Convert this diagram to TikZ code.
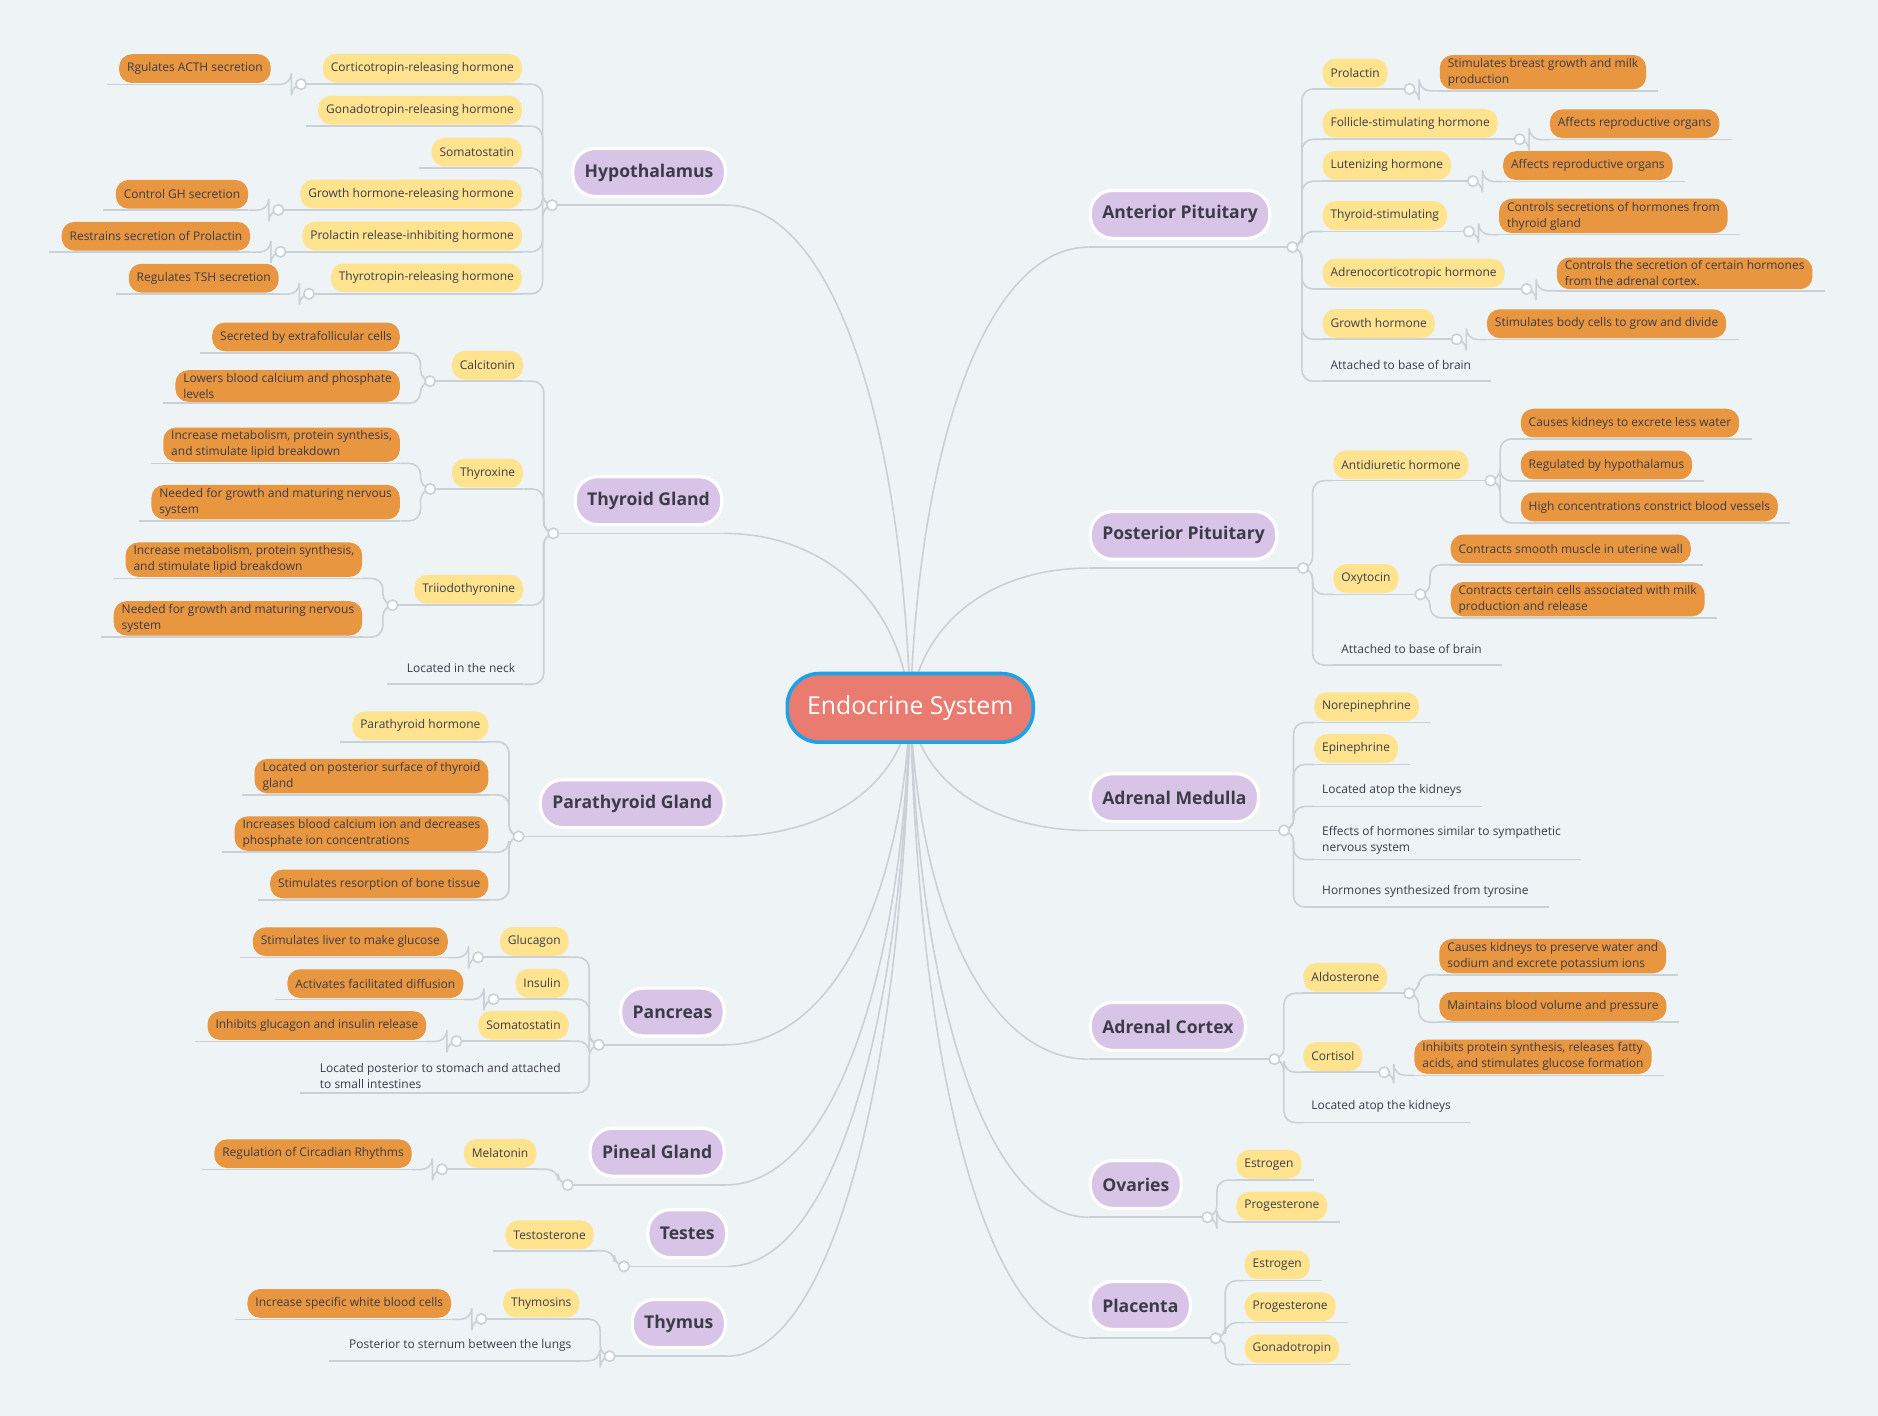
\documentclass[tikz,border=0pt]{standalone}
\usepackage{fontspec}
\setmainfont{Open Sans}
\usetikzlibrary{calc}
\definecolor{bgc}{HTML}{EEF3F6}
\definecolor{lnc}{HTML}{C9D0D6}
\definecolor{ylw}{HTML}{FFE38F}
\definecolor{org}{HTML}{E8963F}
\definecolor{lav}{HTML}{D7C4E6}
\definecolor{ctr}{HTML}{E97B71}
\definecolor{cbd}{HTML}{1AA3E8}
\definecolor{txt}{HTML}{3C3C48}
\pgfdeclarelayer{back}\pgfdeclarelayer{bg}\pgfsetlayers{back,bg,main}
\tikzset{
 ln/.style={draw=lnc, line width=1pt, rounded corners=7pt},
 pill/.style={rounded corners=8pt, inner xsep=5pt, inner ysep=2pt, minimum height=18pt, font=\fontsize{7.5}{10}\selectfont, text=txt, align=left},
 yl/.style={pill, fill=ylw},
 orn/.style={pill, fill=org},
 tx/.style={inner xsep=5pt, inner ysep=2pt, minimum height=18pt, font=\fontsize{7.5}{10}\selectfont, text=txt, align=left},
 topic/.style={fill=lav, draw=white, line width=2pt, rounded corners=14pt, minimum height=30pt, inner xsep=7.5pt, font=\fontsize{11}{13}\selectfont\bfseries, text=txt},
 jdot/.style={circle, draw=lnc, fill=white, line width=1pt, inner sep=0pt, minimum size=6.5pt},
}
\newcommand\mkul[2]{\path (#1.south west) ++(0,#2) coordinate (#1L); \path (#1.south east) ++(0,#2) coordinate (#1R);}
\newcommand\chR[2]{\mkul{#2}{1}\begin{pgfonlayer}{bg}\draw[ln] (#1) -- ++(8,0) |- (#2L);\end{pgfonlayer}}
\newcommand\chL[2]{\mkul{#2}{1}\begin{pgfonlayer}{bg}\draw[ln] (#1) -- ++(-8,0) |- (#2R);\end{pgfonlayer}}
\newcommand\finR[1]{\begin{pgfonlayer}{bg}\draw[ln] (#1L) -- ($(#1R)+(10,0)$);\end{pgfonlayer}}
\newcommand\finL[1]{\begin{pgfonlayer}{bg}\draw[ln] (#1R) -- ($(#1L)+(-10,0)$);\end{pgfonlayer}}
\newcommand\circR[1]{\path (#1R) ++(18,0) coordinate (#1C); \begin{pgfonlayer}{bg}\draw[ln] (#1L) -- (#1C);\end{pgfonlayer}\node[jdot] at (#1C) {};}
\newcommand\circL[1]{\path (#1L) ++(-18,0) coordinate (#1C); \begin{pgfonlayer}{bg}\draw[ln] (#1R) -- (#1C);\end{pgfonlayer}\node[jdot] at (#1C) {};}
\newcommand\trunk[1]{\begin{pgfonlayer}{bg}\draw[ln] let \p1=(S), \p2=(#1) in (\p1) .. controls ({\x1+0.05*(\x2-\x1)},{\y1+0.6*(\y2-\y1)}) and ({\x1+0.45*(\x2-\x1)},{\y2}) .. (\p2);\end{pgfonlayer}}
\newcommand\topR[4]{\node[topic,anchor=west] (#1) at (#2) {#3}; \mkul{#1}{6}\coordinate (#1J) at (#1L -| #4,0); \begin{pgfonlayer}{bg}\draw[ln] (#1L) -- (#1J);\end{pgfonlayer}\trunk{#1L}}
\newcommand\topL[4]{\node[topic,anchor=east] (#1) at (#2) {#3}; \mkul{#1}{6}\coordinate (#1J) at (#1R -| #4,0); \begin{pgfonlayer}{bg}\draw[ln] (#1R) -- (#1J);\end{pgfonlayer}\trunk{#1R}}
\begin{document}
\begin{tikzpicture}[x=0.75pt,y=-0.75pt]
\begin{pgfonlayer}{back}\fill[bgc] (0,0) rectangle (1568,1182);\end{pgfonlayer}
\useasboundingbox (0,0) rectangle (1568,1182);
\coordinate (S) at (760,591);
% ---------- Anterior Pituitary
\topR{T1}{909,179}{Anterior Pituitary}{1079}
\node[yl,anchor=west] (a1) at (1104,61) {Prolactin}; \chR{T1J}{a1}\circR{a1}
\node[orn,anchor=west] (a1g) at ($(a1C)+(25,-14)$) {Stimulates breast growth and milk\\production}; \chR{a1C}{a1g}\finR{a1g}
\node[yl,anchor=west] (a2) at (1104,103) {Follicle-stimulating hormone}; \chR{T1J}{a2}\circR{a2}
\node[orn,anchor=west] (a2g) at ($(a2C)+(25,-13)$) {Affects reproductive organs}; \chR{a2C}{a2g}\finR{a2g}
\node[yl,anchor=west] (a3) at (1104,138) {Lutenizing hormone}; \chR{T1J}{a3}\circR{a3}
\node[orn,anchor=west] (a3g) at ($(a3C)+(25,-13)$) {Affects reproductive organs}; \chR{a3C}{a3g}\finR{a3g}
\node[yl,anchor=west] (a4) at (1104,180) {Thyroid-stimulating}; \chR{T1J}{a4}\circR{a4}
\node[orn,anchor=west] (a4g) at ($(a4C)+(25,-13)$) {Controls secretions of hormones from\\thyroid gland}; \chR{a4C}{a4g}\finR{a4g}
\node[yl,anchor=west] (a5) at (1104,228) {Adrenocorticotropic hormone}; \chR{T1J}{a5}\circR{a5}
\node[orn,anchor=west] (a5g) at ($(a5C)+(25,-13)$) {Controls the secretion of certain hormones\\from the adrenal cortex.}; \chR{a5C}{a5g}\finR{a5g}
\node[yl,anchor=west] (a6) at (1104,270) {Growth hormone}; \chR{T1J}{a6}\circR{a6}
\node[orn,anchor=west] (a6g) at ($(a6C)+(25,-13)$) {Stimulates body cells to grow and divide}; \chR{a6C}{a6g}\finR{a6g}
\node[tx,anchor=west] (a7) at (1104,305) {Attached to base of brain}; \chR{T1J}{a7}\finR{a7}
\node[jdot] at (T1J) {};
% ---------- Posterior Pituitary
\topR{T2}{909,447}{Posterior Pituitary}{1088}
\node[yl,anchor=west] (b1) at (1113,388) {Antidiuretic hormone}; \chR{T2J}{b1}\circR{b1}
\node[orn,anchor=west] (b1g1) at ($(b1C)+(25,-48)$) {Causes kidneys to excrete less water}; \chR{b1C}{b1g1}\finR{b1g1}
\node[orn,anchor=west] (b1g2) at ($(b1C)+(25,-13)$) {Regulated by hypothalamus}; \chR{b1C}{b1g2}\finR{b1g2}
\node[orn,anchor=west] (b1g3) at ($(b1C)+(25,22)$) {High concentrations constrict blood vessels}; \chR{b1C}{b1g3}\finR{b1g3}
\node[yl,anchor=west] (b2) at (1113,483) {Oxytocin}; \chR{T2J}{b2}\circR{b2}
\node[orn,anchor=west] (b2g1) at ($(b2C)+(25,-38)$) {Contracts smooth muscle in uterine wall}; \chR{b2C}{b2g1}\finR{b2g1}
\node[orn,anchor=west] (b2g2) at ($(b2C)+(25,4)$) {Contracts certain cells associated with milk\\production and release}; \chR{b2C}{b2g2}\finR{b2g2}
\node[tx,anchor=west] (b3) at (1113,542) {Attached to base of brain}; \chR{T2J}{b3}\finR{b3}
\node[jdot] at (T2J) {};
% ---------- Adrenal Medulla
\topR{T3}{909,666}{Adrenal Medulla}{1072}
\node[yl,anchor=west] (c1) at (1097,590) {Norepinephrine}; \chR{T3J}{c1}\finR{c1}
\node[yl,anchor=west] (c2) at (1097,625) {Epinephrine}; \chR{T3J}{c2}\finR{c2}
\node[tx,anchor=west] (c3) at (1097,660) {Located atop the kidneys}; \chR{T3J}{c3}\finR{c3}
\node[tx,anchor=west] (c4) at (1097,702) {Effects of hormones similar to sympathetic\\nervous system}; \chR{T3J}{c4}\finR{c4}
\node[tx,anchor=west] (c5) at (1097,744) {Hormones synthesized from tyrosine}; \chR{T3J}{c5}\finR{c5}
\node[jdot] at (T3J) {};
% ---------- Adrenal Cortex
\topR{T4}{909,857}{Adrenal Cortex}{1064}
\node[yl,anchor=west] (d1) at (1088,816) {Aldosterone}; \chR{T4J}{d1}\circR{d1}
\node[orn,anchor=west] (d1g1) at ($(d1C)+(25,-31)$) {Causes kidneys to preserve water and\\sodium and excrete potassium ions}; \chR{d1C}{d1g1}\finR{d1g1}
\node[orn,anchor=west] (d1g2) at ($(d1C)+(25,11)$) {Maintains blood volume and pressure}; \chR{d1C}{d1g2}\finR{d1g2}
\node[yl,anchor=west] (d2) at (1088,882) {Cortisol}; \chR{T4J}{d2}\circR{d2}
\node[orn,anchor=west] (d2g) at ($(d2C)+(25,-13)$) {Inhibits protein synthesis, releases fatty\\acids, and stimulates glucose formation}; \chR{d2C}{d2g}\finR{d2g}
\node[tx,anchor=west] (d3) at (1088,924) {Located atop the kidneys}; \chR{T4J}{d3}\finR{d3}
\node[jdot] at (T4J) {};
% ---------- Ovaries
\topR{T5}{909,989}{Ovaries}{1008}
\node[yl,anchor=west] (e1) at (1032,972) {Estrogen}; \chR{T5J}{e1}\finR{e1}
\node[yl,anchor=west] (e2) at (1032,1007) {Progesterone}; \chR{T5J}{e2}\finR{e2}
\node[jdot] at (T5J) {};
% ---------- Placenta
\topR{T6}{909,1090}{Placenta}{1015}
\node[yl,anchor=west] (f1) at (1039,1056) {Estrogen}; \chR{T6J}{f1}\finR{f1}
\node[yl,anchor=west] (f2) at (1039,1091) {Progesterone}; \chR{T6J}{f2}\finR{f2}
\node[yl,anchor=west] (f3) at (1039,1126) {Gonadotropin}; \chR{T6J}{f3}\finR{f3}
\node[jdot] at (T6J) {};
% ---------- Hypothalamus
\topL{L1}{607,144}{Hypothalamus}{461}
\node[yl,anchor=east] (g1) at (436,57) {Corticotropin-releasing hormone}; \chL{L1J}{g1}\circL{g1}
\node[orn,anchor=east] (g1g) at ($(g1C)+(-25,-13)$) {Rgulates ACTH secretion}; \chL{g1C}{g1g}\finL{g1g}
\node[yl,anchor=east] (g2) at (436,92) {Gonadotropin-releasing hormone}; \chL{L1J}{g2}\finL{g2}
\node[yl,anchor=east] (g3) at (436,127) {Somatostatin}; \chL{L1J}{g3}\finL{g3}
\node[yl,anchor=east] (g4) at (436,162) {Growth hormone-releasing hormone}; \chL{L1J}{g4}\circL{g4}
\node[orn,anchor=east] (g4g) at ($(g4C)+(-25,-13)$) {Control GH secretion}; \chL{g4C}{g4g}\finL{g4g}
\node[yl,anchor=east] (g5) at (436,197) {Prolactin release-inhibiting hormone}; \chL{L1J}{g5}\circL{g5}
\node[orn,anchor=east] (g5g) at ($(g5C)+(-25,-13)$) {Restrains secretion of Prolactin}; \chL{g5C}{g5g}\finL{g5g}
\node[yl,anchor=east] (g6) at (436,232) {Thyrotropin-releasing hormone}; \chL{L1J}{g6}\circL{g6}
\node[orn,anchor=east] (g6g) at ($(g6C)+(-25,-13)$) {Regulates TSH secretion}; \chL{g6C}{g6g}\finL{g6g}
\node[jdot] at (L1J) {};
% ---------- Thyroid Gland
\topL{L2}{604,418}{Thyroid Gland}{462}
\node[yl,anchor=east] (h1) at (437,305) {Calcitonin}; \chL{L2J}{h1}\circL{h1}
\node[orn,anchor=east] (h1g1) at ($(h1C)+(-25,-37)$) {Secreted by extrafollicular cells}; \chL{h1C}{h1g1}\finL{h1g1}
\node[orn,anchor=east] (h1g2) at ($(h1C)+(-25,4)$) {Lowers blood calcium and phosphate\\levels}; \chL{h1C}{h1g2}\finL{h1g2}
\node[yl,anchor=east] (h2) at (437,395) {Thyroxine}; \chL{L2J}{h2}\circL{h2}
\node[orn,anchor=east] (h2g1) at ($(h2C)+(-25,-37)$) {Increase metabolism, protein synthesis,\\and stimulate lipid breakdown}; \chL{h2C}{h2g1}\finL{h2g1}
\node[orn,anchor=east] (h2g2) at ($(h2C)+(-25,11)$) {Needed for growth and maturing nervous\\system}; \chL{h2C}{h2g2}\finL{h2g2}
\node[yl,anchor=east] (h3) at (437,492) {Triiodothyronine}; \chL{L2J}{h3}\circL{h3}
\node[orn,anchor=east] (h3g1) at ($(h3C)+(-25,-38)$) {Increase metabolism, protein synthesis,\\and stimulate lipid breakdown}; \chL{h3C}{h3g1}\finL{h3g1}
\node[orn,anchor=east] (h3g2) at ($(h3C)+(-25,11)$) {Needed for growth and maturing nervous\\system}; \chL{h3C}{h3g2}\finL{h3g2}
\node[tx,anchor=east] (h4) at (437,558) {Located in the neck}; \chL{L2J}{h4}\finL{h4}
\node[jdot] at (L2J) {};
% ---------- Parathyroid Gland
\topL{L3}{606,671}{Parathyroid Gland}{433}
\node[yl,anchor=east] (i1) at (408,606) {Parathyroid hormone}; \chL{L3J}{i1}\finL{i1}
\node[orn,anchor=east] (i2) at (408,648) {Located on posterior surface of thyroid\\gland}; \chL{L3J}{i2}\finL{i2}
\node[orn,anchor=east] (i3) at (408,696) {Increases blood calcium ion and decreases\\phosphate ion concentrations}; \chL{L3J}{i3}\finL{i3}
\node[orn,anchor=east] (i4) at (408,738) {Stimulates resorption of bone tissue}; \chL{L3J}{i4}\finL{i4}
\node[jdot] at (L3J) {};
% ---------- Pancreas
\topL{L4}{606,845}{Pancreas}{500}
\node[yl,anchor=east] (k1) at (475,786) {Glucagon}; \chL{L4J}{k1}\circL{k1}
\node[orn,anchor=east] (k1g) at ($(k1C)+(-25,-13)$) {Stimulates liver to make glucose}; \chL{k1C}{k1g}\finL{k1g}
\node[yl,anchor=east] (k2) at (475,821) {Insulin}; \chL{L4J}{k2}\circL{k2}
\node[orn,anchor=east] (k2g) at ($(k2C)+(-25,-13)$) {Activates facilitated diffusion}; \chL{k2C}{k2g}\finL{k2g}
\node[yl,anchor=east] (k3) at (475,856) {Somatostatin}; \chL{L4J}{k3}\circL{k3}
\node[orn,anchor=east] (k3g) at ($(k3C)+(-25,-13)$) {Inhibits glucagon and insulin release}; \chL{k3C}{k3g}\finL{k3g}
\node[tx,anchor=east] (k4) at (475,898) {Located posterior to stomach and attached\\to small intestines}; \chL{L4J}{k4}\finL{k4}
\node[jdot] at (L4J) {};
% ---------- Pineal Gland
\topL{L5}{606,962}{Pineal Gland}{474}
\node[yl,anchor=east] (m1) at (448,963) {Melatonin}; \chL{L5J}{m1}\circL{m1}
\node[orn,anchor=east] (m1g) at ($(m1C)+(-25,-13)$) {Regulation of Circadian Rhythms}; \chL{m1C}{m1g}\finL{m1g}
\node[jdot] at (L5J) {};
% ---------- Testes
\topL{L6}{608,1030}{Testes}{521}
\node[yl,anchor=east] (n1) at (496,1031) {Testosterone}; \chL{L6J}{n1}\finL{n1}
\node[jdot] at (L6J) {};
% ---------- Thymus
\topL{L7}{607,1105}{Thymus}{509}
\node[yl,anchor=east] (p1) at (484,1088) {Thymosins}; \chL{L7J}{p1}\circL{p1}
\node[orn,anchor=east] (p1g) at ($(p1C)+(-25,-13)$) {Increase specific white blood cells}; \chL{p1C}{p1g}\finL{p1g}
\node[tx,anchor=east] (p2) at (484,1123) {Posterior to sternum between the lungs}; \chL{L7J}{p2}\finL{p2}
\node[jdot] at (L7J) {};
% ---------- Center
\node[fill=ctr, draw=cbd, line width=2.25pt, rounded corners=20pt, minimum width=154pt, minimum height=43pt, text=white, font=\fontsize{15.5}{18}\selectfont] (C) at (S) {Endocrine System};
\end{tikzpicture}
\end{document}
